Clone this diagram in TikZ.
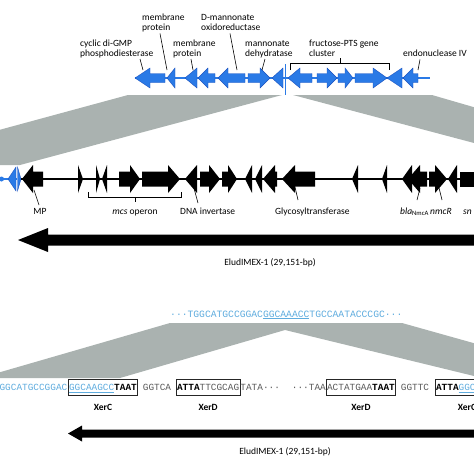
\documentclass[tikz,border=0pt]{standalone}
\usepackage{fontspec}
\setmainfont{Carlito}
\newfontfamily\seqfont{Liberation Mono}
\definecolor{gblue}{RGB}{42,122,230}
\definecolor{gblueD}{RGB}{25,80,190}
\definecolor{sblue}{RGB}{95,172,222}
\definecolor{sgray}{RGB}{90,90,90}
\definecolor{band}{RGB}{170,178,176}
\newcommand{\gR}[7]{\path[#1] (#3,#2-#6) -- (#4,#2-#6) -- (#4,#2-#7) -- (#5,#2) -- (#4,#2+#7) -- (#4,#2+#6) -- (#3,#2+#6) -- cycle;}
\newcommand{\gL}[7]{\path[#1] (#3,#2) -- (#4,#2-#7) -- (#4,#2-#6) -- (#5,#2-#6) -- (#5,#2+#6) -- (#4,#2+#6) -- (#4,#2+#7) -- cycle;}
\newcommand{\bR}[3]{\gR{bluegene}{78}{#1}{#2}{#3}{4.5}{10}}
\newcommand{\bL}[3]{\gL{bluegene}{78}{#1}{#2}{#3}{4.5}{10}}
\newcommand{\kR}[3]{\gR{blackgene}{179}{#1}{#2}{#3}{7.5}{14}}
\newcommand{\kL}[3]{\gL{blackgene}{179}{#1}{#2}{#3}{7.5}{14}}
\begin{document}
\begin{tikzpicture}[x=1pt,y=-1pt,
  lbl/.style={font=\fontsize{9.5}{10.5}\selectfont, inner sep=0pt, anchor=base west},
  lead/.style={line width=0.6pt},
  bluegene/.style={fill=gblue, draw=gblueD, line width=0.4pt},
  blackgene/.style={fill=black},
  seq/.style={font=\seqfont\fontsize{9.4}{10}\selectfont, inner sep=0pt, anchor=base west},
  seqbox/.style={seq, draw=black!85, line width=0.6pt, inner xsep=0.8pt, inner ysep=2.5pt, text height=8.5pt, text depth=2.5pt},
  xlbl/.style={font=\fontsize{9.5}{10.5}\selectfont\bfseries, inner sep=0pt, anchor=base}]
\useasboundingbox (0,0) rectangle (474,474);

% grey bands
\fill[band] (128,95) -- (282,95) -- (20,165) -- (-130,165) -- cycle;
\fill[band] (293,95) -- (432,95) -- (673,165) -- (557,165) -- cycle;
\fill[band] (170,323) -- (402,323) -- (591,376) -- (474,376) -- (285,330) -- (120,378) -- (-20,378) -- cycle;

% ---------- blue gene row ----------
\draw[gblue, line width=1.6pt] (135,78) -- (430,78);
\bL{135}{150}{165}
\bL{167}{175}{175}
\bL{185}{197}{197}
\bL{198}{208}{215}
\bL{218}{228}{245}
\bR{248}{260}{270}
\bL{272}{283}{283}
\draw[gblue, line width=0.8pt] (285,64) -- (285,95);
\bL{288}{300}{312}
\bR{317}{327}{337}
\bR{338}{345}{353}
\bR{355}{373}{387}
\bL{387}{402}{402}
\bL{403}{413}{418}

% labels of blue row
\node[lbl] (c1) at (80,46) {cyclic di-GMP};
\node[lbl] (c2) at (80,56.3) {phosphodiesterase};
\node[lbl] (m1a) at (142,20.5) {membrane};
\node[lbl] (m1b) at (142,30.8) {protein};
\node[lbl] (m2a) at (173,46) {membrane};
\node[lbl] (m2b) at (173,56.3) {protein};
\node[lbl] (d1) at (201,20.5) {D-mannonate};
\node[lbl] (d2) at (201,30.8) {oxidoreductase};
\node[lbl] (h1) at (245,46) {mannonate};
\node[lbl] (h2) at (245,56.3) {dehydratase};
\node[lbl] (f1) at (309,46) {fructose-PTS gene};
\node[lbl] (f2) at (309,56.3) {cluster};
\node[lbl] (e1) at (403,56.3) {endonuclease IV};
\draw[lead] (140,59) -- (143,70);
\draw[lead] (160,33.5) -- (167,70);
\draw[lead] (191,59) -- (193,70);
\draw[lead] (230,33.5) -- (237,70);
\draw[lead] (265,59) -- (262,70);
\draw[lead] (290,70) -- (290,63) -- (389,63) -- (389,70);
\draw[lead] (340,63) -- (340,58);
\draw[lead] (420,59.5) -- (418,70);

% ---------- black gene row ----------
\draw[gblue, line width=1.3pt] (0,179) -- (21,179);
\fill[gblue] (1.5,179) circle (2.5);
\gL{bluegene}{179}{8}{16}{16}{7.5}{12}
\draw[white, line width=0.6pt] (16.8,166) -- (16.8,192);
\gR{bluegene}{179}{17.5}{17.5}{21}{7.5}{12}
\draw[line width=1.3pt] (21,179) -- (474,179);
\kL{22}{33}{43}
\kR{78}{78}{83}
\kR{96}{96}{100}
\kL{102}{107}{107}
\kR{119}{130}{140}
\kR{142}{168}{180}
\kL{185}{197}{197}
\kR{200}{209}{220}
\kR{222}{228}{237}
\kL{245}{252}{252}
\kL{255}{262}{262}
\kL{263}{275}{277}
\kL{282}{295}{315}
\kL{352}{358}{358}
\kL{382}{387}{387}
\kL{402}{412}{412}
\kL{408}{420}{427}
\kR{429}{435}{447}
\kL{448}{457}{457}
\fill (460,171.5) rectangle (480,186.5);

% labels of black row
\node[lbl, anchor=base] (mp) at (40,214.5) {MP};
\node[lbl, anchor=base] (mcs) at (135,214.5) {\textit{mcs} operon};
\node[lbl] (dna) at (180,214.5) {DNA invertase};
\node[lbl] (gly) at (275,214.5) {Glycosyltransferase};
\node[lbl] (bla) at (400,214.5) {\textit{bla}\textsubscript{NmcA}};
\node[lbl] (nmc) at (430,214.5) {\textit{nmcR}};
\node[lbl] (snr) at (463,214.5) {\textit{sn}};
\draw[lead] (34,190) -- (39,205);
\draw[lead] (88,192) -- (88,197) -- (181,197) -- (181,192);
\draw[lead] (135,197) -- (135,202);
\draw[lead] (192,181) -- (198,203);
\draw[lead] (295,187) -- (298,200);
\draw[lead] (420,188) -- (417,200);
\draw[lead] (439,188) -- (442,200);

% big arrow 1
\fill (18,240) -- (48,228) -- (48,234.5) -- (480,234.5) -- (480,245.5) -- (48,245.5) -- (48,252) -- cycle;
\node[lbl, anchor=base] (el1) at (270,265) {EludIMEX-1 (29,151-bp)};

% ---------- sequence section ----------
\node[seq, font=\seqfont\fontsize{9.67}{10}\selectfont, text=sblue] (top) at (170,317)
  {···TGGCATGCCGGAC\underline{GGCAAACC}TGCCAATACCCGC···};

\node[seq, text=sblue, anchor=base east] (s1) at (67.5,390.5) {GGCATGCCGGAC};
\node[seqbox] (b1) at (68,390.5) {\textcolor{sblue}{\underline{GGCAAGCC}}\textbf{TAAT}};
\node[seq, text=sgray, anchor=base] (s2) at (157,390.5) {GGTCA};
\node[seqbox] (b2) at (176,390.5) {\textbf{ATTA}\textcolor{sgray}{TTCGCAG}};
\node[seq, text=sgray] (s3) at (b2.base east) {TATA···};
\node[seq, text=sgray, anchor=base east] (s4) at (326,390.5) {···TAA};
\node[seqbox] (b3) at (326,390.5) {\textcolor{sgray}{ACTATGAA}\textbf{TAAT}};
\node[seq, text=sgray, anchor=base] (s5) at (415,390.5) {GGTTC};
\node[seqbox] (b4) at (435,390.5) {\textbf{ATTA}\textcolor{sblue}{\underline{GGCTTGCC}}};

\path (b1.south) ++(0,14.5) node[xlbl] (x1) {XerC};
\path (b2.south) ++(0,14.5) node[xlbl] (x2) {XerD};
\path (b3.south) ++(0,14.5) node[xlbl] (x3) {XerD};
\path (b4.south) ++(-3,14.5) node[xlbl] (x4) {XerC};

% big arrow 2
\fill (68,433.5) -- (82,425.5) -- (82,429.5) -- (480,429.5) -- (480,437.5) -- (82,437.5) -- (82,441.5) -- cycle;
\node[lbl, anchor=base] (el2) at (285,454) {EludIMEX-1 (29,151-bp)};
\end{tikzpicture}
\end{document}
